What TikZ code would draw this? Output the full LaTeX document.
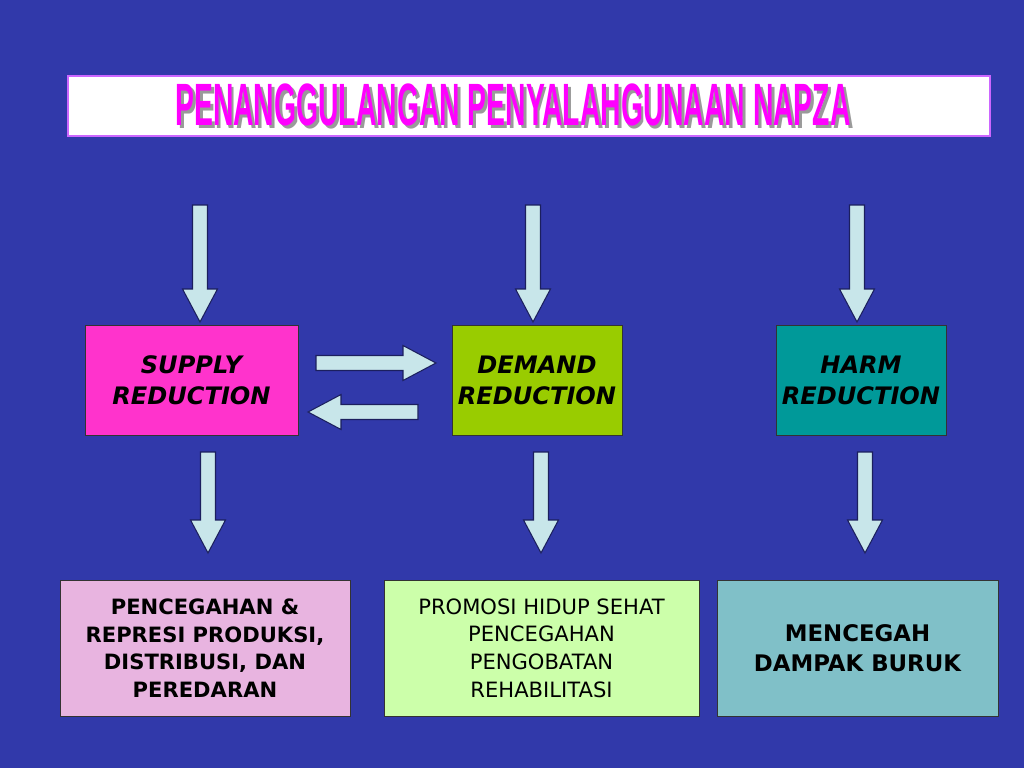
\documentclass[tikz,border=0pt]{standalone}
\usepackage{fontspec}
\setmainfont{DejaVu Sans}
\newfontfamily\titlefont{Liberation Sans}
\usepackage{tikz}
\usetikzlibrary{calc,positioning}

\definecolor{bgblue}{HTML}{3139AA}
\definecolor{supplycol}{HTML}{FF33CC}
\definecolor{demandcol}{HTML}{99CC00}
\definecolor{harmcol}{HTML}{009999}
\definecolor{pencegahcol}{HTML}{E8B4E0}
\definecolor{promosicol}{HTML}{CCFFAA}
\definecolor{dampakcol}{HTML}{80C0C8}
\definecolor{arrowfill}{HTML}{C8E6EA}
\definecolor{arrowline}{HTML}{1B1F5E}
\definecolor{titleline}{HTML}{CC66FF}
\definecolor{titlepink}{HTML}{FF00FF}
\definecolor{titleshadow}{HTML}{9A9A9A}

\tikzset{
  fatarrow/.style={fill=arrowfill, draw=arrowline, line width=0.6pt, line join=miter},
  midbox/.style={draw=black!80, line width=0.5pt, align=center, inner sep=0pt,
    minimum height=2.2cm, font=\fontsize{13.7}{17.6}\selectfont\bfseries\itshape},
  lowbox/.style={draw=black!80, line width=0.5pt, align=center, inner sep=0pt,
    minimum height=2.72cm, font=\fontsize{12}{15.7}\selectfont}
}

% block arrow from coordinate #1 to coordinate #2
\newcommand{\blockarrow}[2]{%
  \coordinate (#1-h) at ($(#2)!0.66cm!(#1)$);
  \draw[fatarrow] ($(#1)!0.15cm!90:(#2)$) -- ($(#1-h)!0.15cm!90:(#2)$)
    -- ($(#1-h)!0.35cm!90:(#2)$) -- (#2) -- ($(#1-h)!0.35cm!-90:(#2)$)
    -- ($(#1-h)!0.15cm!-90:(#2)$) -- ($(#1)!0.15cm!-90:(#2)$) -- cycle;}

% title words with a grey shadow
\newcommand{\titlewords}{PENANGGULANGAN PENYALAHGUNAAN NAPZA}

\begin{document}
\begin{tikzpicture}[x=0.02cm, y=-0.02cm]
\fill[bgblue] (0,0) rectangle (1024,768);
\useasboundingbox (0,0) rectangle (1024,768);

% title
\node[fill=white, draw=titleline, line width=1pt, minimum width=18.44cm, minimum height=1.2cm] (title) at (529,106) {};
\node[font=\fontsize{34}{34}\selectfont\titlefont\bfseries] (titletext) at ($(title.center)+(-16,0)$)
  {\scalebox{0.474}[1]{\makebox[0pt][l]{\hspace{3.5pt}\raisebox{-1.7pt}{\textcolor{titleshadow}{\titlewords}}}\textcolor{titlepink}{\titlewords}}};

% middle row
\node[midbox, fill=supplycol, minimum width=4.26cm] (supply) at (191.5,380) {SUPPLY\\REDUCTION};
\node[midbox, fill=demandcol, minimum width=3.4cm] (demand) at (537,380) {DEMAND\\REDUCTION};
\node[midbox, fill=harmcol, minimum width=3.4cm] (harm) at (861,380) {HARM\\REDUCTION};

% bottom row
\node[lowbox, fill=pencegahcol, minimum width=5.8cm, font=\fontsize{12}{15.7}\selectfont\bfseries] (pencegahan) at (205,648) {PENCEGAHAN \&\\REPRESI PRODUKSI,\\DISTRIBUSI, DAN\\PEREDARAN};
\node[lowbox, fill=promosicol, minimum width=6.3cm] (promosi) at (541.5,648) {PROMOSI HIDUP SEHAT\\PENCEGAHAN\\PENGOBATAN\\REHABILITASI};
\node[lowbox, fill=dampakcol, minimum width=5.62cm, font=\fontsize{13}{17}\selectfont\bfseries] (dampak) at (857.5,648) {MENCEGAH\\DAMPAK BURUK};

% arrow ends
\coordinate (supin) at (200,205);   \coordinate (supinend) at (200,322);
\coordinate (demin) at (533,205);   \coordinate (deminend) at (533,322);
\coordinate (harmin) at (857,205);  \coordinate (harminend) at (857,322);
\coordinate (supout) at (208,452);  \coordinate (supoutend) at (208,553);
\coordinate (demout) at (541,452);  \coordinate (demoutend) at (541,553);
\coordinate (harmout) at (865,452); \coordinate (harmoutend) at (865,553);
\coordinate (toright) at (316,363); \coordinate (torightend) at (436,363);
\coordinate (toleft) at (418,412);  \coordinate (toleftend) at (308,412);

\foreach \a in {supin,demin,harmin,supout,demout,harmout,toright,toleft}
  {\blockarrow{\a}{\a end}}
\end{tikzpicture}
\end{document}
